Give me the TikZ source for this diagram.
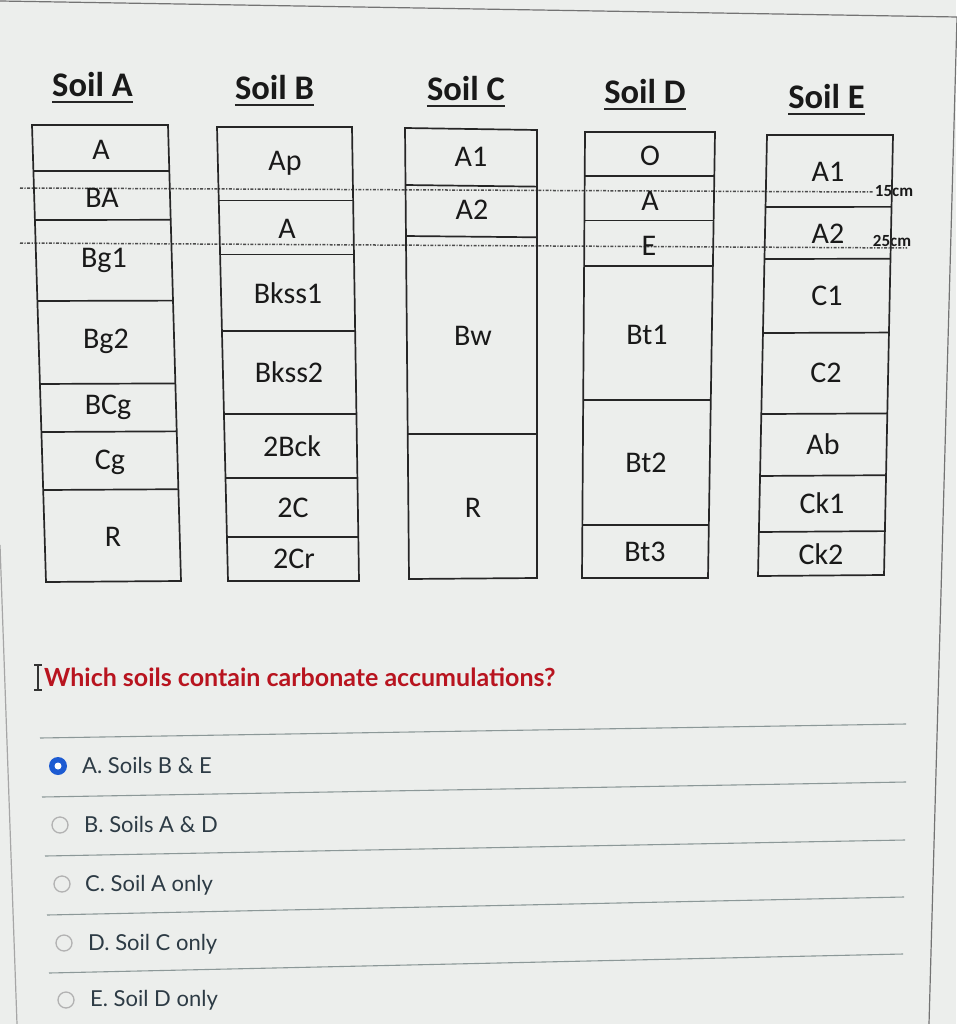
\documentclass[tikz,border=0pt]{standalone}
\usepackage{fontspec}
\setmainfont{Carlito}
\newfontfamily\lato{Lato}
\usetikzlibrary{calc}
\definecolor{bgc}{HTML}{ECEEEC}
\definecolor{qred}{HTML}{B8141F}
\definecolor{opt}{HTML}{2D3B45}
\definecolor{radioblue}{HTML}{1D5BD2}
\definecolor{sepc}{HTML}{8C9898}
\tikzset{
  box/.style={line width=1.7pt, draw=black!85},
  lab/.style={anchor=base, yshift=-9.6pt, inner sep=0pt, font=\fontsize{30}{33}\selectfont, text=black!90},
  ttl/.style={anchor=base, yshift=-11pt, inner sep=0pt, font=\fontsize{34.5}{38}\selectfont\bfseries, text=black!90},
  uline/.style={line width=2.4pt, draw=black!85},
  depthline/.style={line width=1.5pt, draw=black!70, dash pattern=on 3pt off 1.5pt on 1.2pt off 1.5pt},
  cmlab/.style={inner sep=0pt, font=\fontsize{17}{18}\selectfont\bfseries, text=black!90},
  sep/.style={line width=1.1pt, draw=sepc},
  optlab/.style={anchor=base west, yshift=-7.8pt, inner sep=0pt, font=\lato\fontsize{22}{25}\selectfont, text=opt},
  radio/.style={circle, minimum size=16pt, inner sep=0pt, draw=black!30, line width=1.3pt},
  frame/.style={line width=1.2pt, draw=black!55}
}
\begin{document}
\begin{tikzpicture}[x=1pt, y=-1pt]
\fill[bgc] (0,0) rectangle (956,1024);
\useasboundingbox (0,0) rectangle (956,1024);
% screen frame
\coordinate (ftl) at (0,1);
\coordinate (ftr) at (957,17);
\coordinate (fbr) at (929,1024);
\coordinate (fl1) at (0,545);
\coordinate (fl2) at (17,1024);
\draw[frame] (ftl) -- (ftr) -- (fbr);
\draw[frame, draw=black!35] (fl1) -- (fl2);

% titles
\node[ttl] (ta) at (92.5,86) {Soil A};
\node[ttl] (tb) at (274.5,89) {Soil B};
\node[ttl] (tc) at (466,90) {Soil C};
\node[ttl] (td) at (645,93) {Soil D};
\node[ttl] (te) at (826.5,98) {Soil E};
\foreach \t in {ta,tb,tc,td,te}
  \draw[uline] ([yshift=-5pt]\t.base west) -- ([yshift=-5pt]\t.base east);

% depth lines
\coordinate (d1a) at (20,188);
\coordinate (d1b) at (873,192);
\coordinate (d2a) at (20,243);
\coordinate (d2b) at (907,248);
\draw[depthline] (d1a) -- (d1b);
\draw[depthline] (d2a) -- (d2b);
\node[cmlab] (cm15) at (894,191) {15cm};
\node[cmlab] (cm25) at (892,241) {25cm};

% Soil A
\coordinate (aTL) at (32,125); \coordinate (aTR) at (168,125);
\coordinate (aBL) at (46,582); \coordinate (aBR) at (181,581);
\draw[box] (aTL) -- (aTR) -- (aBR) -- (aBL) -- cycle;
\foreach \t in {.1007,.2079,.3851,.5667,.6718,.7987}
  \draw[box] ($(aTL)!\t!(aBL)$) -- ($(aTR)!\t!(aBR)$);
\node[lab] (aA) at (101,150) {A};
\node[lab] (aBA) at (102,198) {BA};
\node[lab] (aBg1) at (104,258) {Bg1};
\node[lab] (aBg2) at (106,339) {Bg2};
\node[lab] (aBCg) at (108,405) {BCg};
\node[lab] (aCg) at (110,460) {Cg};
\node[lab] (aR) at (113,537) {R};

% Soil B
\coordinate (bTL) at (217,127); \coordinate (bTR) at (352,127);
\coordinate (bBL) at (228,581); \coordinate (bBR) at (359,581);
\draw[box] (bTL) -- (bTR) -- (bBR) -- (bBL) -- cycle;
\foreach \t in {.1619,.2808,.4493,.6322,.7731,.9031}
  \draw[box] ($(bTL)!\t!(bBL)$) -- ($(bTR)!\t!(bBR)$);
\node[lab] (bAp) at (285,161) {Ap};
\node[lab] (bA) at (287,229) {A};
\node[lab] (bBkss1) at (288,294) {Bkss1};
\node[lab] (bBkss2) at (289,373) {Bkss2};
\node[lab] (bBck) at (292,447) {2Bck};
\node[lab] (bC) at (293,508) {2C};
\node[lab] (bCr) at (294,559) {2Cr};

% Soil C
\coordinate (cTL) at (405,128); \coordinate (cTR) at (537,130);
\coordinate (cBL) at (409,579); \coordinate (cBR) at (537,578);
\draw[box] (cTL) -- (cTR) -- (cBR) -- (cBL) -- cycle;
\foreach \t in {.1264,.2395,.6785}
  \draw[box] ($(cTL)!\t!(cBL)$) -- ($(cTR)!\t!(cBR)$);
\node[lab] (cA1) at (471,157) {A1};
\node[lab] (cA2) at (472,210) {A2};
\node[lab] (cBw) at (473,336) {Bw};
\node[lab] (cR) at (473,508) {R};

% Soil D
\coordinate (dTL) at (585,132); \coordinate (dTR) at (715,132);
\coordinate (dBL) at (582,578); \coordinate (dBR) at (708,578);
\draw[box] (dTL) -- (dTR) -- (dBR) -- (dBL) -- cycle;
\foreach \t in {.0987,.1984,.3004,.6009,.8812}
  \draw[box] ($(dTL)!\t!(dBL)$) -- ($(dTR)!\t!(dBR)$);
\node[lab] (dO) at (650,156) {O};
\node[lab] (dA) at (650,201) {A};
\node[lab] (dE) at (649,246) {E};
\node[lab] (dBt1) at (647,335) {Bt1};
\node[lab] (dBt2) at (646,463) {Bt2};
\node[lab] (dBt3) at (645,552) {Bt3};

% Soil E
\coordinate (eTL) at (767,135); \coordinate (eTR) at (893,135);
\coordinate (eBL) at (758,576); \coordinate (eBR) at (884,575);
\draw[box] (eTL) -- (eTR) -- (eBR) -- (eBL) -- cycle;
\foreach \t in {.1633,.2812,.449,.6327,.7732,.9002}
  \draw[box] ($(eTL)!\t!(eBL)$) -- ($(eTR)!\t!(eBR)$);
\node[lab] (eA1) at (828,172) {A1};
\node[lab] (eA2) at (828,234) {A2};
\node[lab] (eC1) at (827,296) {C1};
\node[lab] (eC2) at (826,373) {C2};
\node[lab] (eAb) at (823,445) {Ab};
\node[lab] (eCk1) at (822,504) {Ck1};
\node[lab] (eCk2) at (821,555) {Ck2};

% question
\node[anchor=base west, inner sep=0pt, font=\lato\bfseries\fontsize{25}{28}\selectfont, text=qred] (q) at (44,686) {Which soils contain carbonate accumulations?};
\coordinate (cur1) at (38,665); \coordinate (cur2) at (38,690);
\draw[line width=1.3pt, black!80] (cur1) -- (cur2)
  ([xshift=-4pt]cur1) -- ([xshift=4pt]cur1)
  ([xshift=-4pt]cur2) -- ([xshift=4pt]cur2);

% separators
\coordinate (s1a) at (40,738); \coordinate (s1b) at (906,724);
\coordinate (s2a) at (42,797); \coordinate (s2b) at (906,782);
\coordinate (s3a) at (45,856); \coordinate (s3b) at (905,840);
\coordinate (s4a) at (47,915); \coordinate (s4b) at (904,897);
\coordinate (s5a) at (49,973); \coordinate (s5b) at (903,954);
\foreach \i in {1,...,5} \draw[sep] (s\i a) -- (s\i b);

% options
\node[circle, minimum size=18pt, inner sep=0pt, fill=radioblue] (ra) at (58,766) {};
\node[circle, minimum size=7pt, inner sep=0pt, fill=white] (rai) at (ra.center) {};
\node[radio] (rb) at (60,825) {};
\node[radio] (rc) at (62,884) {};
\node[radio] (rd) at (64,943) {};
\node[radio] (re) at (66,1000) {};
\node[optlab] (oa) at (82,766) {A. Soils B \& E};
\node[optlab] (ob) at (84,825) {B. Soils A \& D};
\node[optlab] (oc) at (85,884) {C. Soil A only};
\node[optlab] (od) at (88,943) {D. Soil C only};
\node[optlab] (oe) at (90,999) {E. Soil D only};
\end{tikzpicture}
\end{document}
